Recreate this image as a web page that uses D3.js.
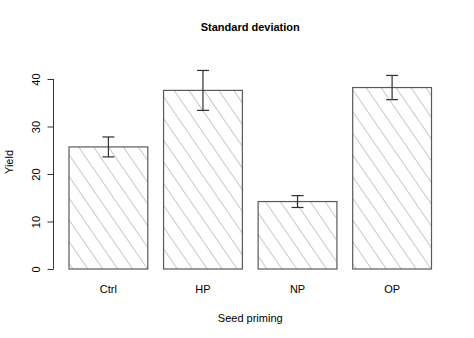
<!DOCTYPE html>
<html>
<head>
<meta charset="utf-8">
<script src="https://cdn.jsdelivr.net/npm/d3@7"></script>
<style>
  html, body { margin: 0; padding: 0; background: #fff; }
  svg { display: block; }
  text { font-family: "Liberation Sans", Arial, sans-serif; fill: #000; }
</style>
</head>
<body>
<div id="chart"></div>
<script>
const categories = ["Ctrl", "HP", "NP", "OP"];
const means = [25.7, 37.6, 14.2, 38.2];
const sds = [2.1, 4.2, 1.25, 2.55];
const yTicks = [0, 10, 20, 30, 40];
const title = "Standard deviation";
const xTitle = "Seed priming";
const yTitle = "Yield";

const W = 474, H = 338;
const svg = d3.select("#chart").append("svg").attr("width", W).attr("height", H);

const plotLeft = 54.5, plotRight = 446;
const x = d3.scaleBand()
  .domain(categories)
  .range([plotLeft, plotRight])
  .paddingInner(0.2 / 1.2)
  .paddingOuter(0.184 / 1.2);

const y = d3.scaleLinear().domain([0, 40]).range([269, 79]);

// hatch pattern
const defs = svg.append("defs");
const spacing = 12.3;
const pat = defs.append("pattern")
  .attr("id", "hatch")
  .attr("patternUnits", "userSpaceOnUse")
  .attr("width", 10)
  .attr("height", spacing)
  .attr("patternTransform", "rotate(55.5)");
pat.append("line")
  .attr("x1", 0).attr("x2", 10)
  .attr("y1", spacing / 2).attr("y2", spacing / 2)
  .attr("stroke", "#c6c6c6").attr("stroke-width", 1);

const data = categories.map((c, i) => ({ cat: c, mean: means[i], sd: sds[i] }));

// bars
svg.append("g").selectAll("rect")
  .data(data).join("rect")
  .attr("x", d => x(d.cat))
  .attr("y", d => y(d.mean))
  .attr("width", x.bandwidth())
  .attr("height", d => y(0) - y(d.mean))
  .attr("fill", "url(#hatch)")
  .attr("stroke", "#5a5a5a")
  .attr("stroke-width", 1.2);

// error bars
const eb = svg.append("g").attr("stroke", "#303030").attr("stroke-width", 1.2);
const cap = 6;
data.forEach(d => {
  const cx = x(d.cat) + x.bandwidth() / 2;
  eb.append("line").attr("x1", cx).attr("x2", cx)
    .attr("y1", y(d.mean - d.sd)).attr("y2", y(d.mean + d.sd));
  eb.append("line").attr("x1", cx - cap).attr("x2", cx + cap)
    .attr("y1", y(d.mean + d.sd)).attr("y2", y(d.mean + d.sd));
  eb.append("line").attr("x1", cx - cap).attr("x2", cx + cap)
    .attr("y1", y(d.mean - d.sd)).attr("y2", y(d.mean - d.sd));
});

// y axis
const yAxis = d3.axisLeft(y).tickValues(yTicks).tickSize(6).tickSizeOuter(0).tickFormat(d3.format("d"));
const gy = svg.append("g").attr("transform", `translate(${plotLeft - 1},0)`).call(yAxis);
gy.select(".domain").attr("stroke", "#333").attr("stroke-width", 1)
  .attr("d", `M0,${y(0)}V${y(40)}`);
gy.selectAll(".tick line").attr("stroke", "#333");
gy.selectAll(".tick text")
  .attr("font-size", 11)
  .attr("font-family", "Liberation Sans, Arial, sans-serif")
  .attr("fill", "#000")
  .attr("text-anchor", "middle")
  .attr("x", 0).attr("dy", 0)
  .attr("transform", "translate(-13.5,0) rotate(-90)");

// x labels
svg.append("g").selectAll("text")
  .data(categories).join("text")
  .attr("x", d => x(d) + x.bandwidth() / 2)
  .attr("y", 293)
  .attr("text-anchor", "middle")
  .attr("font-size", 11)
  .text(d => d);

// titles
svg.append("text")
  .attr("x", (plotLeft + plotRight) / 2).attr("y", 31)
  .attr("text-anchor", "middle")
  .attr("font-size", 11).attr("font-weight", "bold")
  .text(title);

svg.append("text")
  .attr("x", (plotLeft + plotRight) / 2).attr("y", 322)
  .attr("text-anchor", "middle")
  .attr("font-size", 11)
  .text(xTitle);

svg.append("text")
  .attr("transform", `translate(13,${(y(0) + y(40)) / 2 - 12}) rotate(-90)`)
  .attr("text-anchor", "middle")
  .attr("font-size", 11)
  .text(yTitle);
</script>
</body>
</html>
